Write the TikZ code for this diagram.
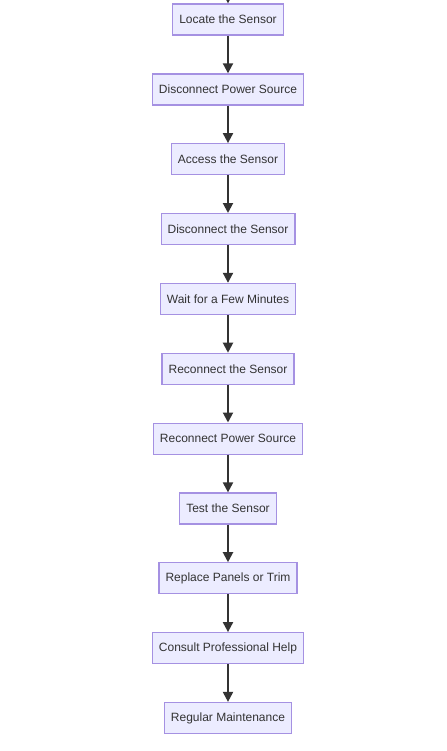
\documentclass[tikz,border=0pt]{standalone}
\usepackage{fontspec}
\setmainfont{Liberation Sans}
\usepackage{tikz}
\usetikzlibrary{arrows.meta}

\begin{document}
\begin{tikzpicture}[x=0.75pt,y=0.75pt,yscale=-1,xscale=1,
  stepbox/.style={draw={rgb, 255:red, 165; green, 145; blue, 226 }, fill={rgb, 255:red, 236; green, 236; blue, 255 }, line width=0.9pt, minimum height=23.25pt, inner xsep=4.9pt, text={rgb, 255:red, 51; green, 51; blue, 51 }, font=\fontsize{9}{11}\selectfont},
  flow/.style={draw={rgb, 255:red, 51; green, 51; blue, 51 }, line width=1.5pt, -{Triangle[length=7.5pt,width=7.5pt]}}]
%set diagram left start at 0, and has height of 751
\clip (0,0) rectangle (447,751);

% Text Node
\node [stepbox] (locate) at (228,19.5) {Locate the Sensor};
% Text Node
\node [stepbox] (offpower) at (228,89.4) {Disconnect Power Source};
% Text Node
\node [stepbox] (access) at (228,159.2) {Access the Sensor};
% Text Node
\node [stepbox] (unplug) at (228,229.1) {Disconnect the Sensor};
% Text Node
\node [stepbox] (wait) at (228,298.9) {Wait for a Few Minutes};
% Text Node
\node [stepbox] (plug) at (228,368.8) {Reconnect the Sensor};
% Text Node
\node [stepbox] (onpower) at (228,438.6) {Reconnect Power Source};
% Text Node
\node [stepbox] (test) at (228,508.5) {Test the Sensor};
% Text Node
\node [stepbox] (replace) at (228,578.3) {Replace Panels or Trim};
% Text Node
\node [stepbox] (consult) at (228,648.2) {Consult Professional Help};
% Text Node
\node [stepbox] (maintain) at (228,718) {Regular Maintenance};

%Straight Lines
\coordinate (start) at (228,-40);
\draw [flow] (start) -- (locate);
\draw [flow] (locate) -- (offpower);
\draw [flow] (offpower) -- (access);
\draw [flow] (access) -- (unplug);
\draw [flow] (unplug) -- (wait);
\draw [flow] (wait) -- (plug);
\draw [flow] (plug) -- (onpower);
\draw [flow] (onpower) -- (test);
\draw [flow] (test) -- (replace);
\draw [flow] (replace) -- (consult);
\draw [flow] (consult) -- (maintain);

\end{tikzpicture}
\end{document}
